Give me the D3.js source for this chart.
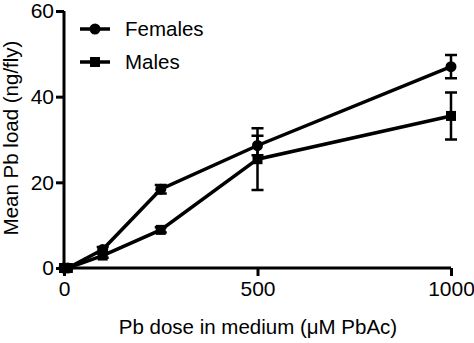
<!DOCTYPE html>
<meta charset="utf-8">
<style>
body { margin: 0; background: #fff; }
text { font-family: "Liberation Sans", Arial, sans-serif; fill: #000; }
.axis path, .axis line { stroke: #000; stroke-width: 3px; }
</style>
<svg width="474" height="343"></svg>
<script src="https://d3js.org/d3.v7.min.js"></script>
<script>

// dose (uM PbAc) and mean Pb load (ng/fly) with error (SEM)
var doses = [0, 10, 100, 250, 500, 1000];
var females = [0, 0, 4.3, 18.4, 28.6, 47.0];
var femalesErr = [0, 0, 0.6, 1.0, 2.3, 2.7];
var males = [0, 0, 2.9, 8.9, 25.4, 35.5];
var malesErr = [0, 0, 0.5, 0.6, 7.2, 5.5];
var xTicks = [0, 500, 1000];
var yTicks = [0, 20, 40, 60];

var series = [
  { name: "Females", vals: females, err: femalesErr, shape: "circle" },
  { name: "Males", vals: males, err: malesErr, shape: "square" }
];

var svg = d3.select("svg");

var x = d3.scaleLinear().domain([0, 1000]).range([64, 451]);
var y = d3.scaleLinear().domain([0, 60]).range([268, 11]);

// axes
svg.append("g")
    .attr("class", "axis")
    .attr("transform", "translate(0,268)")
    .call(d3.axisBottom(x).tickValues(xTicks).tickFormat(d3.format("d"))
        .tickSize(8).tickSizeOuter(0).tickPadding(5))
  .call(function(g) { g.select(".domain").attr("d", "M" + x(0) + ",0H" + x(1000)); });

svg.append("g")
    .attr("class", "axis")
    .attr("transform", "translate(64,0)")
    .call(d3.axisLeft(y).tickValues(yTicks).tickSize(8).tickSizeOuter(0).tickPadding(2))
  .call(function(g) { g.select(".domain").attr("d", "M0," + y(0) + "V" + y(60)); });

svg.selectAll(".tick text")
    .attr("font-family", null)
    .style("font-size", "21px");

// titles
svg.append("text")
    .attr("x", 258).attr("y", 334)
    .attr("text-anchor", "middle")
    .style("font-size", "20.5px")
    .text("Pb dose in medium (\u03bcM PbAc)");

svg.append("text")
    .attr("transform", "translate(18,138) rotate(-90)")
    .attr("text-anchor", "middle")
    .style("font-size", "20.5px")
    .text("Mean Pb load (ng/fly)");

var line = d3.line()
    .x(function(d) { return x(d[0]); })
    .y(function(d) { return y(d[1]); });

function symbolFor(s) {
  return d3.symbol().type(s.shape === "circle" ? d3.symbolCircle : d3.symbolSquare)
      .size(s.shape === "circle" ? 95 : 100);
}

series.forEach(function(s) {
  var pts = doses.map(function(d, i) { return [d, s.vals[i], s.err[i]]; });
  var g = svg.append("g");

  // error bars
  pts.forEach(function(p) {
    if (p[2] <= 0) return;
    var cx = x(p[0]), top = y(p[1] + p[2]), bot = y(p[1] - p[2]);
    g.append("path")
        .attr("d", "M" + cx + "," + top + "V" + bot +
                   "M" + (cx - 6) + "," + top + "H" + (cx + 6) +
                   "M" + (cx - 6) + "," + bot + "H" + (cx + 6))
        .attr("stroke", "#000").attr("stroke-width", 2.5).attr("fill", "none");
  });

  g.append("path")
      .datum(pts)
      .attr("d", line)
      .attr("fill", "none")
      .attr("stroke", "#000")
      .attr("stroke-width", 3.5);

  g.selectAll(".pt")
    .data(pts)
    .enter().append("path")
      .attr("transform", function(p) { return "translate(" + x(p[0]) + "," + y(p[1]) + ")"; })
      .attr("d", symbolFor(s))
      .attr("fill", "#000");
});

// legend
var leg = svg.append("g");
series.forEach(function(s, i) {
  var ly = 29 + i * 33;
  leg.append("line")
      .attr("x1", 80).attr("x2", 110).attr("y1", ly).attr("y2", ly)
      .attr("stroke", "#000").attr("stroke-width", 3.5);
  leg.append("path")
      .attr("transform", "translate(95," + ly + ")")
      .attr("d", symbolFor(s))
      .attr("fill", "#000");
  leg.append("text")
      .attr("x", 125).attr("y", ly)
      .attr("dy", "0.35em")
      .style("font-size", "20.5px")
      .text(s.name);
});

</script>
